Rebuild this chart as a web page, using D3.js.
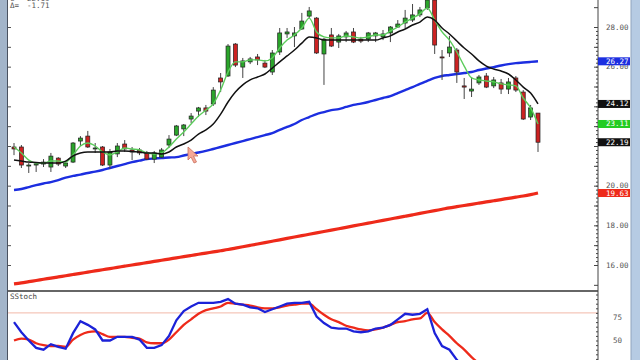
<!DOCTYPE html>
<html>
<head>
<meta charset="utf-8">
<script src="https://cdn.jsdelivr.net/npm/d3@7"></script>
<style>
  body { margin: 0; background: #fff; }
  svg { display: block; }
  .lbl { font-family: "DejaVu Sans Mono", monospace; font-size: 7.5px; fill: #555; }
</style>
</head>
<body>
<div id="chart"></div>
<script>
// PRICE DATA (one entry per session)
const opens  = [21.95,21.95,20.99,21.04,21.09,20.94,21.39,20.99,21.19,22.25,22.50,21.85,21.95,21.04,21.60,22.10,21.80,21.80,21.65,21.34,21.44,22.05,22.55,22.86,23.36,23.76,23.92,24.12,25.43,25.53,27.14,25.98,26.24,26.49,26.18,25.73,26.74,27.65,27.55,27.90,28.55,28.45,26.64,27.60,27.24,27.50,27.75,27.39,27.39,27.55,27.50,27.70,28.00,28.20,28.35,28.61,28.96,29.36,26.49,26.69,26.84,25.03,24.77,25.18,25.53,25.03,25.18,24.87,25.43,24.72,23.46,23.66];
const highs  = [22.15,22.05,21.14,21.14,21.34,21.65,21.44,21.19,22.20,22.50,22.76,22.15,22.00,21.85,22.15,22.30,21.95,21.90,21.75,21.75,21.90,22.55,23.06,23.11,23.66,23.97,24.07,24.97,25.68,27.14,27.19,26.44,26.49,26.64,26.34,26.84,27.95,27.95,28.00,28.71,29.01,28.50,27.45,27.95,27.65,27.80,27.95,27.50,27.75,27.75,27.85,28.05,28.35,28.86,29.16,29.01,29.80,29.60,26.84,27.55,26.94,25.43,25.48,25.58,25.68,25.48,25.38,25.43,25.53,24.82,24.07,23.66];
const lows   = [21.54,20.89,20.64,20.69,20.94,20.69,20.99,20.89,21.14,22.00,21.90,21.65,20.99,20.84,21.44,21.70,21.29,21.54,21.29,21.14,21.39,21.90,22.50,22.50,23.16,23.46,23.56,24.02,24.72,25.48,25.98,25.43,26.13,26.08,25.93,25.58,26.59,27.45,26.99,27.85,28.45,26.64,25.08,26.99,26.94,27.24,27.19,27.19,27.24,27.24,27.34,27.24,27.95,27.95,28.25,28.50,28.86,26.64,25.33,26.49,25.18,24.37,24.47,25.08,24.92,24.92,24.62,24.62,24.72,23.31,23.31,21.70];
const closes = [21.85,21.04,21.04,21.10,21.19,21.49,21.09,21.14,22.15,22.40,21.95,21.90,21.04,21.70,22.00,21.85,21.70,21.65,21.34,21.65,21.80,22.35,23.01,23.06,23.51,23.92,23.76,24.82,25.23,27.04,26.08,26.29,26.39,26.34,25.98,26.69,27.70,27.75,27.70,28.30,28.81,26.69,27.39,27.04,27.55,27.70,27.24,27.29,27.70,27.70,27.65,28.00,28.15,28.45,28.61,28.86,29.36,27.09,26.44,26.99,25.73,24.97,24.87,25.48,24.97,25.33,24.87,25.23,24.82,23.36,23.92,22.19];

// MOVING AVERAGES
const maFast = [21.95,21.65,21.29,21.14,21.14,21.24,21.24,21.19,21.55,22.00,22.15,22.00,21.70,21.55,21.70,21.90,21.85,21.80,21.65,21.60,21.65,21.95,22.35,22.71,23.11,23.51,23.81,24.12,24.82,25.73,26.24,26.24,26.34,26.34,26.29,26.44,26.94,27.34,27.60,27.95,28.45,27.75,27.50,27.45,27.45,27.55,27.50,27.45,27.50,27.60,27.60,27.80,28.00,28.25,28.45,28.66,28.96,28.35,27.75,27.34,26.74,26.03,25.43,25.33,25.28,25.23,25.13,25.08,25.03,24.42,23.92,23.11];
const maMid  = [21.29,21.24,21.19,21.17,21.14,21.14,21.14,21.24,21.50,21.65,21.70,21.70,21.70,21.70,21.75,21.75,21.72,21.70,21.65,21.65,21.60,21.70,21.95,22.10,22.30,22.60,22.81,23.11,23.61,24.22,24.72,25.08,25.33,25.48,25.63,25.93,26.24,26.54,26.84,27.19,27.50,27.45,27.34,27.34,27.34,27.34,27.34,27.34,27.34,27.34,27.45,27.55,27.75,27.90,28.10,28.25,28.50,28.35,27.95,27.65,27.29,26.94,26.64,26.29,26.03,25.88,25.78,25.63,25.33,24.97,24.67,24.12];
const ma50   = [19.78,19.83,19.93,20.03,20.11,20.18,20.28,20.41,20.49,20.56,20.64,20.71,20.79,20.89,20.99,21.09,21.19,21.26,21.34,21.37,21.39,21.42,21.44,21.52,21.60,21.67,21.75,21.85,21.95,22.05,22.15,22.25,22.35,22.45,22.55,22.65,22.81,22.96,23.11,23.31,23.46,23.61,23.71,23.81,23.86,23.97,24.07,24.14,24.22,24.32,24.42,24.52,24.67,24.82,24.97,25.13,25.28,25.43,25.53,25.58,25.63,25.68,25.73,25.83,25.91,25.98,26.06,26.13,26.18,26.21,26.24,26.27];
const ma200  = [15.05,15.10,15.16,15.22,15.28,15.34,15.40,15.46,15.52,15.58,15.64,15.70,15.76,15.82,15.88,15.94,16.00,16.06,16.12,16.18,16.24,16.30,16.36,16.42,16.48,16.54,16.60,16.66,16.72,16.78,16.85,16.92,16.99,17.06,17.13,17.20,17.27,17.34,17.41,17.48,17.55,17.62,17.69,17.76,17.83,17.90,17.97,18.04,18.11,18.18,18.25,18.32,18.39,18.46,18.53,18.60,18.67,18.74,18.81,18.88,18.94,19.00,19.06,19.12,19.18,19.24,19.30,19.36,19.42,19.48,19.55,19.63];

// SLOW STOCHASTIC
const stochK = [70,59,50,42,40,46,43,41,58,71,67,62,50,50,54,54,54,51,42,42,45,55,72,82,87,91,91,91,92,95,90,89,86,85,81,84,87,90,91,91,92,76,69,64,63,63,60,59,60,63,64,67,73,79,78,79,84,58,44,40,29,20,15,12,10,8,10,8,6,4,5,3];
const stochD = [50,52,51,47,45,44,44,43,51,56,59,60,57,54,54,54,53,52,48,47,47,51,59,67,73,79,83,85,87,91,90,89,88,86,85,85,86,88,89,90,90,84,78,73,70,66,64,62,61,62,64,67,70,71,73,74,80,70,62,55,47,40,32,25,19,14,11,9,8,7,6,5];

// AXIS TICKS (22.00 and 24.00 sit under the last-value flags)
const priceTicks = [16, 18, 20, 26, 28];
const stochTicks = [50, 75];
const stochLevel = 80;
const lastLabels = [
  { value: 26.27, color: '#1c2ee0', series: 'ma50' },
  { value: 24.12, color: '#111111', series: 'maMid' },
  { value: 23.11, color: '#22cc22', series: 'maFast' },
  { value: 22.19, color: '#111111', series: 'close' },
  { value: 19.63, color: '#ee2a1a', series: 'ma200' }
];

const W = 640, H = 360;
const left = 8, right = 598, divY = 291;

const svg = d3.select('#chart').append('svg')
  .attr('width', W).attr('height', H);

const idx = d3.range(closes.length);
const x = d3.scaleLinear().domain([0, closes.length - 1]).range([14, 538]);
const y = d3.scaleLinear().domain([16, 28]).range([265, 27]);
const ys = d3.scaleLinear().domain([0, 100]).range([386.5, 294.5]);

// clip areas
const defs = svg.append('defs');
defs.append('clipPath').attr('id', 'clipPrice')
  .append('rect').attr('x', left).attr('y', 0).attr('width', right - left).attr('height', divY);
defs.append('clipPath').attr('id', 'clipStoch')
  .append('rect').attr('x', left).attr('y', divY + 1).attr('width', right - left).attr('height', H - divY);

// window frame strips
svg.append('rect').attr('x', 0).attr('y', 0).attr('width', 7).attr('height', H).style('fill', '#a3b5ca');
svg.append('line').attr('x1', 7.5).attr('x2', 7.5).attr('y1', 0).attr('y2', H).style('stroke', '#4a5260');
svg.append('rect').attr('x', 631).attr('y', 0).attr('width', 9).attr('height', H).style('fill', '#b6cbe3');
svg.append('line').attr('x1', 631).attr('x2', 631).attr('y1', 0).attr('y2', H).style('stroke', '#8fa4bd');

// left tick marks
svg.append('g').attr('transform', 'translate(' + left + ',0)')
  .call(d3.axisRight(y).ticks(14).tickSize(3).tickFormat(''))
  .call(g => g.select('.domain').remove())
  .selectAll('line').style('stroke', '#555');

// PRICE PANEL
const price = svg.append('g').attr('clip-path', 'url(#clipPrice)');

const line = function(arr, scale) {
  return d3.line().x((d, i) => x(i)).y(d => scale(d)).curve(d3.curveMonotoneX)(arr);
};

price.append('path').attr('d', line(ma200, y))
  .style('fill', 'none').style('stroke', '#ee2a1a').style('stroke-width', 3.2);
price.append('path').attr('d', line(ma50, y))
  .style('fill', 'none').style('stroke', '#1c2ee0').style('stroke-width', 2.4);

// candles
const candles = price.selectAll('.candle').data(idx).enter().append('g').attr('class', 'candle');
candles.append('line')
  .attr('x1', i => x(i)).attr('x2', i => x(i))
  .attr('y1', i => y(highs[i])).attr('y2', i => y(lows[i]))
  .style('stroke', '#444').style('stroke-width', 1);
candles.append('rect')
  .attr('x', i => x(i) - 2)
  .attr('width', 4)
  .attr('y', i => y(Math.max(opens[i], closes[i])))
  .attr('height', i => Math.max(1, Math.abs(y(opens[i]) - y(closes[i]))))
  .style('fill', i => closes[i] >= opens[i] ? '#2aa52a' : '#cc2222')
  .style('stroke', '#222').style('stroke-width', 0.7);

price.append('path').attr('d', line(maFast, y))
  .style('fill', 'none').style('stroke', '#5ccc5c').style('stroke-width', 1.4);
price.append('path').attr('d', line(maMid, y))
  .style('fill', 'none').style('stroke', '#111').style('stroke-width', 1.5);

// mouse pointer
svg.append('path')
  .attr('d', 'M188,147 L188,160 L191,157 L194,163 L196.5,162 L193.5,156 L198,156 Z')
  .style('fill', '#f6a896').style('stroke', '#c8705e').style('stroke-width', 0.8);

// top-left readout
svg.append('text').attr('class', 'lbl').attr('x', 10).attr('y', 1).text('C=');
svg.append('text').attr('class', 'lbl').attr('x', 27).attr('y', 1).text('22.19');
svg.append('text').attr('class', 'lbl').attr('x', 10).attr('y', 8).text('\u0394=');
svg.append('text').attr('class', 'lbl').attr('x', 27).attr('y', 8).text('-1.71');

// STOCH PANEL
svg.append('line').attr('x1', left).attr('x2', right).attr('y1', divY).attr('y2', divY)
  .style('stroke', '#333').style('stroke-width', 1.3);
svg.append('line').attr('x1', left).attr('x2', right).attr('y1', ys(stochLevel)).attr('y2', ys(stochLevel))
  .style('stroke', '#f2b9a8').style('stroke-width', 1);
svg.append('text').attr('class', 'lbl').attr('x', 10).attr('y', 299).style('fill', '#444').text('SStoch');

const stoch = svg.append('g').attr('clip-path', 'url(#clipStoch)');
stoch.append('path').attr('d', line(stochD, ys))
  .style('fill', 'none').style('stroke', '#ee2a1a').style('stroke-width', 2.3);
stoch.append('path').attr('d', d3.line().x((d, i) => x(i)).y(d => ys(d))(stochK))
  .style('fill', 'none').style('stroke', '#1c22d8').style('stroke-width', 2.3);

// RIGHT AXIS
svg.append('line').attr('x1', right).attr('x2', right).attr('y1', 0).attr('y2', H)
  .style('stroke', '#444').style('stroke-width', 1);
svg.append('g').attr('transform', 'translate(' + right + ',0)')
  .call(d3.axisLeft(y).ticks(60).tickSize(2).tickFormat(''))
  .call(g => g.select('.domain').remove())
  .selectAll('line').style('stroke', '#444');
svg.append('g').attr('transform', 'translate(' + right + ',0)')
  .call(d3.axisLeft(y).tickValues(d3.range(15, 30)).tickSize(4).tickFormat(''))
  .call(g => g.select('.domain').remove())
  .selectAll('line').style('stroke', '#444');
svg.append('g').attr('transform', 'translate(' + right + ',0)')
  .call(d3.axisLeft(ys).ticks(20).tickSize(2).tickFormat(''))
  .call(g => g.selectAll('.tick').filter(d => ys(d) < divY + 1).remove())
  .call(g => g.select('.domain').remove())
  .selectAll('line').style('stroke', '#444');

svg.selectAll('.plabel').data(priceTicks).enter().append('text')
  .attr('class', 'lbl').attr('x', 606).attr('y', d => y(d) + 2.5).text(d => d3.format('.2f')(d));
svg.selectAll('.slabel').data(stochTicks).enter().append('text')
  .attr('class', 'lbl').attr('x', 613).attr('y', d => ys(d) + 2.5).text(d => d);

// last value flags
const flags = svg.selectAll('.flag').data(lastLabels).enter().append('g');
flags.append('rect')
  .attr('x', right).attr('y', d => y(d.value) - 4).attr('width', 32).attr('height', 8)
  .style('fill', d => d.color);
flags.append('text')
  .attr('class', 'lbl').attr('x', 606).attr('y', d => y(d.value) + 2.5)
  .style('fill', '#fff').text(d => d3.format('.2f')(d.value));
</script>
</body>
</html>
